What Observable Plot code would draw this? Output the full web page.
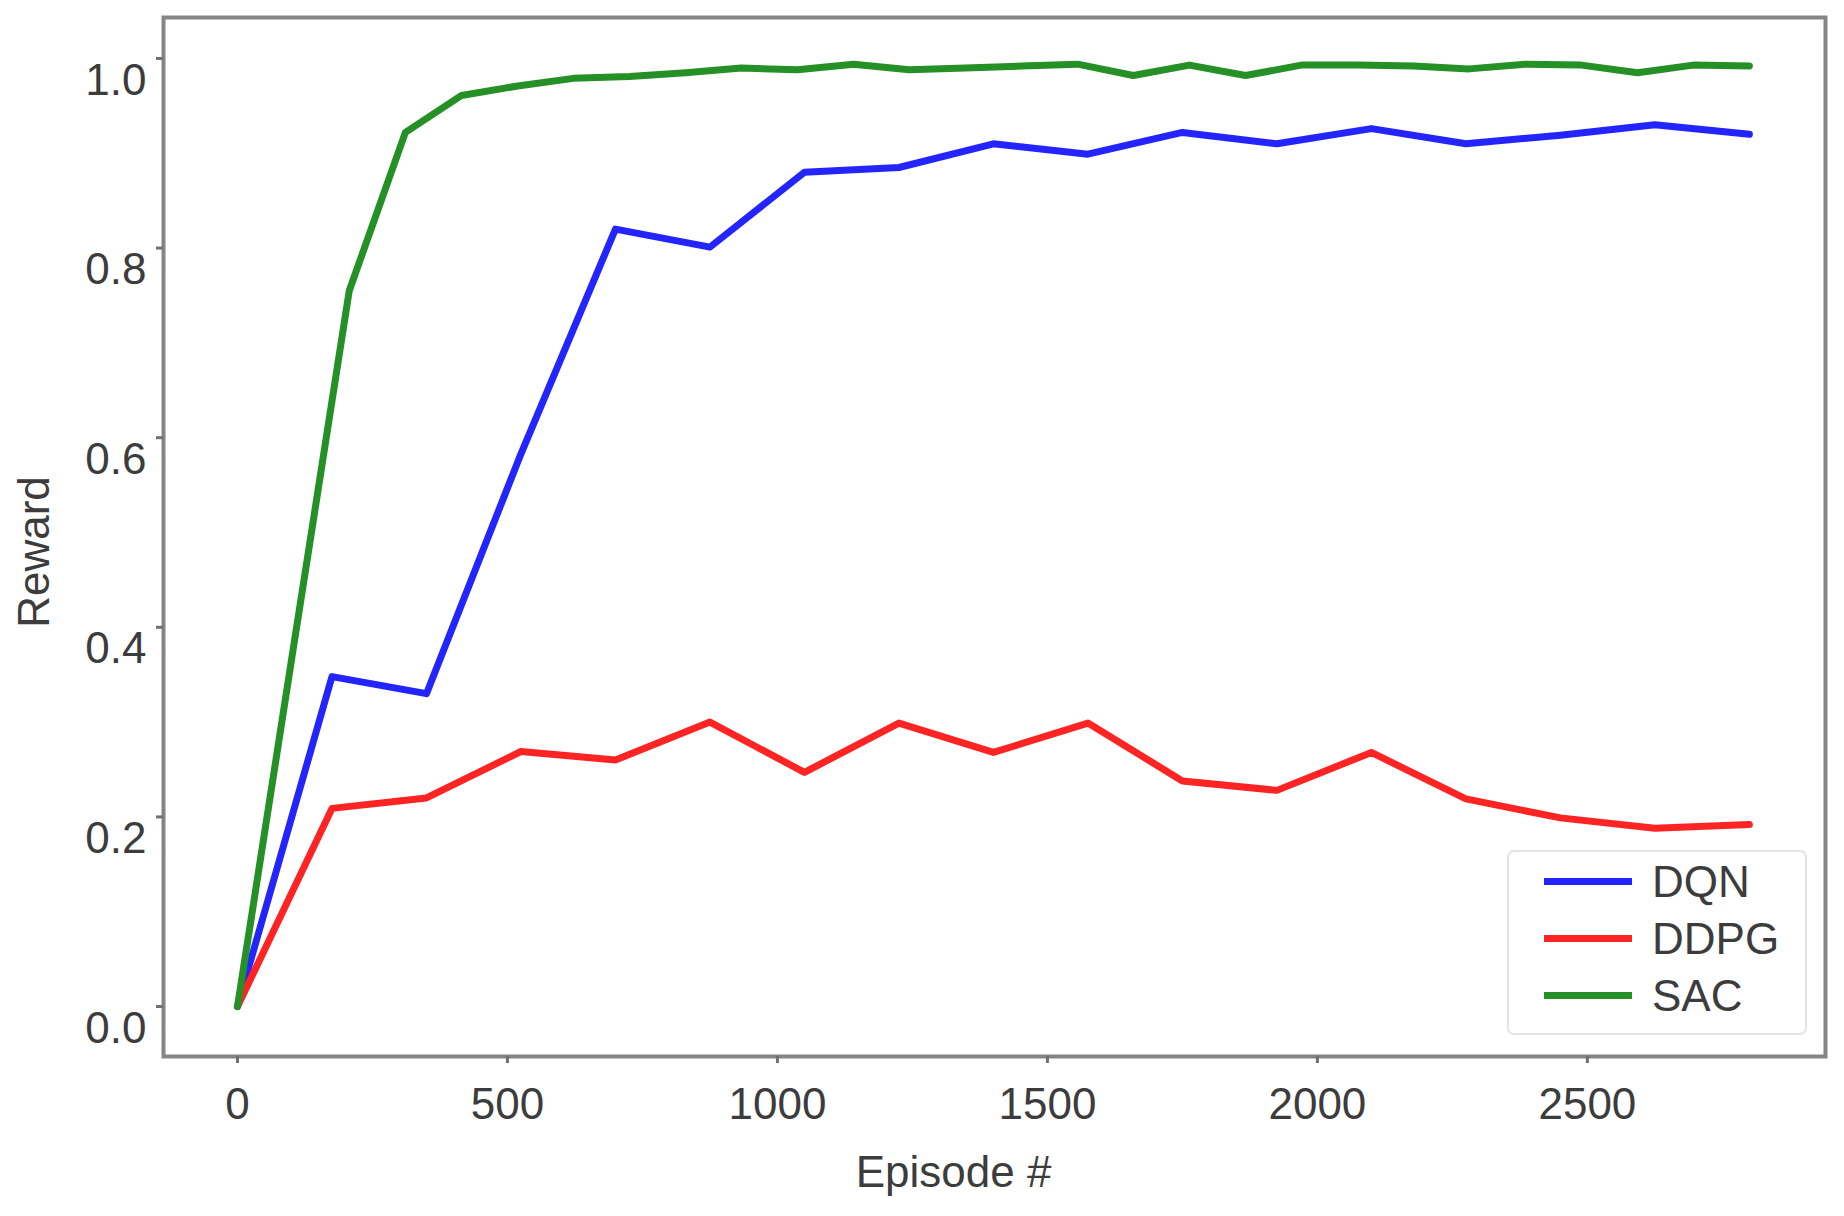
<!DOCTYPE html>
<html>
<head>
<meta charset="utf-8">
<script src="https://cdn.jsdelivr.net/npm/d3@7"></script>
<script src="https://cdn.jsdelivr.net/npm/@observablehq/plot@0.6"></script>
<style>
  body { margin: 0; background: #fff; }
  #wrap { position: relative; width: 1844px; height: 1216px; font-family: "Liberation Sans", Arial, sans-serif; }
  #legend { position: absolute; left: 1507px; top: 850px; width: 300px; height: 185px; box-sizing: border-box;
            border: 2px solid #e4e4e4; border-radius: 7px; background: #fff; }
  .item { position: absolute; left: 0; height: 50px; display: flex; align-items: center; }
  .swatch { position: absolute; left: 35px; width: 88px; height: 7px; }
  .lab { position: absolute; left: 143px; font-size: 44px; color: #3c3c3c; white-space: nowrap; line-height: 50px; }
</style>
</head>
<body>
<div id="wrap"></div>
<script>
// ---- data ----
const seriesNames = ["DQN", "DDPG", "SAC"];
const seriesColors = ["#2424ff", "#ff2424", "#259025"];

const episodesDQN = [0, 175, 350, 525, 700, 875, 1050, 1225, 1400, 1575, 1750, 1925, 2100, 2275, 2450, 2625, 2800];
const rewardDQN  = [0, 0.348, 0.330, 0.583, 0.820, 0.801, 0.880, 0.885, 0.910, 0.899, 0.922, 0.910, 0.926, 0.910, 0.919, 0.930, 0.920];

const episodesDDPG = [0, 175, 350, 525, 700, 875, 1050, 1225, 1400, 1575, 1750, 1925, 2100, 2275, 2450, 2625, 2800];
const rewardDDPG  = [0, 0.209, 0.220, 0.269, 0.260, 0.300, 0.247, 0.299, 0.268, 0.299, 0.238, 0.228, 0.268, 0.219, 0.199, 0.188, 0.192];

const episodesSAC = [0, 104, 207, 311, 415, 519, 622, 726, 830, 933, 1037, 1141, 1244, 1348, 1452, 1556, 1659, 1763, 1867, 1970, 2074, 2178, 2281, 2385, 2489, 2593, 2696, 2800];
const rewardSAC  = [0, 0.380, 0.755, 0.922, 0.961, 0.971, 0.979, 0.981, 0.985, 0.990, 0.988, 0.994, 0.988, 0.990, 0.992, 0.994, 0.982, 0.993, 0.982, 0.993, 0.993, 0.992, 0.989, 0.994, 0.993, 0.985, 0.993, 0.992];

const xTicks = [0, 500, 1000, 1500, 2000, 2500];
const yTicks = [0, 0.2, 0.4, 0.6, 0.8, 1.0];
const xTitle = "Episode #";
const yTitle = "Reward";

// ---- build table ----
const rows = [
  ...episodesDQN.map((e, i) => ({episode: e, reward: rewardDQN[i], series: "DQN"})),
  ...episodesDDPG.map((e, i) => ({episode: e, reward: rewardDDPG[i], series: "DDPG"})),
  ...episodesSAC.map((e, i) => ({episode: e, reward: rewardSAC[i], series: "SAC"}))
];

const font = '"Liberation Sans", Arial, sans-serif';
const textColor = "#3c3c3c";

const chart = Plot.plot({
  width: 1844,
  height: 1216,
  marginLeft: 163,
  marginRight: 19,
  marginTop: 17,
  marginBottom: 160,
  style: {fontSize: "44px", fontFamily: font, color: textColor, background: "#fff"},
  x: {domain: [-137, 2941]},
  y: {domain: [-0.0527, 1.0432]},
  color: {domain: seriesNames, range: seriesColors},
  marks: [
    Plot.lineY(rows, {x: "episode", y: "reward", z: "series", stroke: "series", strokeWidth: 7}),
    Plot.frame({stroke: "#858585", strokeWidth: 4}),
    Plot.axisX({ticks: xTicks, tickSize: 7, stroke: "#707070", strokeWidth: 3, fill: "none", label: null}),
    Plot.axisX({ticks: xTicks, tickSize: 7, tickPadding: 24, stroke: "none", fill: textColor, fontSize: 44,
                label: null, tickFormat: d3.format("d")}),
    Plot.axisY({ticks: yTicks, tickSize: 7, stroke: "#707070", strokeWidth: 3, fill: "none", label: null}),
    Plot.axisY({ticks: yTicks, tickSize: 7, tickPadding: 10, stroke: "none", fill: textColor, fontSize: 44,
                dy: 22, label: null, tickFormat: d3.format(".1f")}),
    Plot.text([xTitle], {text: d => d, frameAnchor: "bottom", textAnchor: "middle", lineAnchor: "middle",
                         dx: -41, dy: 116, fontSize: 44, fill: textColor}),
    Plot.text([yTitle], {text: d => d, frameAnchor: "left", textAnchor: "middle", lineAnchor: "middle",
                         dx: -129, dy: 15, rotate: -90, fontSize: 44, fill: textColor})
  ]
});

const wrap = document.getElementById("wrap");
wrap.appendChild(chart);

// ---- legend (inside the plot, lower right) ----
const legend = document.createElement("div");
legend.id = "legend";
const centers = [32, 89, 146];
seriesNames.forEach((name, i) => {
  const item = document.createElement("div");
  item.className = "item";
  item.style.top = (centers[i] - 25 - 2) + "px";
  const sw = document.createElement("div");
  sw.className = "swatch";
  sw.style.background = seriesColors[i];
  sw.style.top = "21px";
  const lab = document.createElement("div");
  lab.className = "lab";
  lab.textContent = name;
  lab.style.top = "0px";
  item.appendChild(sw);
  item.appendChild(lab);
  legend.appendChild(item);
});
wrap.appendChild(legend);
</script>
</body>
</html>
